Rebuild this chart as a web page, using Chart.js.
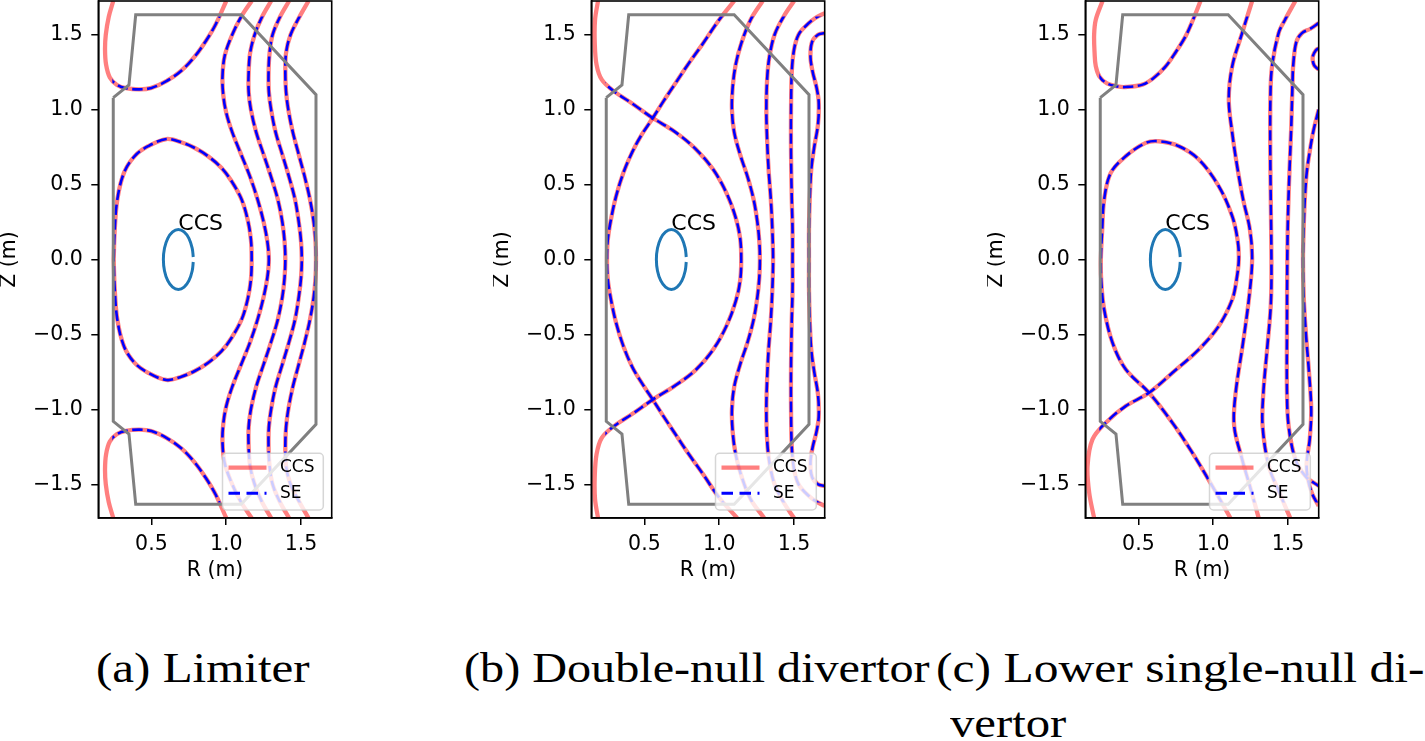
<!DOCTYPE html>
<html>
<head>
<meta charset="utf-8">
<script src="https://cdn.jsdelivr.net/npm/chart.js@4.4.0/dist/chart.umd.min.js"></script>
<style>
  body { margin: 0; background: #fff; width: 1425px; height: 741px; overflow: hidden; position: relative; }
  canvas { position: absolute; top: 0; }
  .cap { position: absolute; font-family: 'Liberation Serif', serif; font-size: 42px; line-height: 42px; white-space: nowrap; transform-origin: 0 0; color: #000; }
</style>
</head>
<body>
<canvas id="pa" width="340" height="600" style="left:0px"></canvas>
<canvas id="pb" width="340" height="600" style="left:493px"></canvas>
<canvas id="pc" width="340" height="600" style="left:987px"></canvas>
<div class="cap" style="left:95.5px;top:647px;transform:scaleX(1.167)">(a) Limiter</div>
<div class="cap" style="left:463.6px;top:647px;transform:scaleX(1.147)">(b) Double-null divertor</div>
<div class="cap" style="left:936px;top:647px;transform:scaleX(1.18)">(c) Lower single-null di-</div>
<div class="cap" style="left:950px;top:702px;transform:scaleX(1.16)">vertor</div>
<script>
// axis ranges and ticks
const xMin = 0.145, xMax = 1.705, yMin = -1.725, yMax = 1.725;
const xTicks = [0.5, 1.0, 1.5];
const yTicks = [-1.5, -1.0, -0.5, 0.0, 0.5, 1.0, 1.5];
const labelPos = [0.68, 0.2];

// vacuum vessel (gray)
const vessel = [[0.245,1.08],[0.35,1.165],[0.395,1.633],[1.1,1.633],[1.6,1.1],[1.6,-1.1],[1.1,-1.633],[0.395,-1.633],[0.35,-1.165],[0.245,-1.08],[0.245,1.08]];

// central coil outline
const coil = [[0.7796,0.017],[0.7724,0.0765],[0.7507,0.1414],[0.7183,0.1848],[0.68,0.2],[0.6417,0.1848],[0.6093,0.1414],[0.5876,0.0765],[0.58,0],[0.5876,-0.0765],[0.6093,-0.1414],[0.6417,-0.1848],[0.68,-0.2],[0.7183,-0.1848],[0.7507,-0.1414],[0.7724,-0.0765],[0.7796,-0.017]];

// (a) limiter
const aCore = [[0.248,0],[0.254,0.18],[0.272,0.40],[0.317,0.58],[0.388,0.69],[0.478,0.756],[0.60,0.804],[0.70,0.782],[0.79,0.744],[0.879,0.689],[0.969,0.611],[1.036,0.522],[1.103,0.40],[1.143,0.267],[1.165,0.133],[1.17,0],[1.165,-0.133],[1.143,-0.267],[1.103,-0.40],[1.036,-0.522],[0.969,-0.611],[0.879,-0.689],[0.79,-0.744],[0.70,-0.782],[0.60,-0.804],[0.478,-0.756],[0.388,-0.69],[0.317,-0.58],[0.272,-0.40],[0.254,-0.18],[0.248,0]];
const aUpper = [[0.245,1.725],[0.215,1.62],[0.195,1.50],[0.19,1.40],[0.197,1.30],[0.222,1.215],[0.27,1.165],[0.33,1.143],[0.42,1.135],[0.50,1.145],[0.60,1.19],[0.70,1.26],[0.79,1.355],[0.865,1.46],[0.93,1.57],[1.0,1.725]];
const aLower = [[0.245,-1.725],[0.215,-1.62],[0.195,-1.50],[0.19,-1.40],[0.197,-1.30],[0.222,-1.215],[0.27,-1.165],[0.33,-1.143],[0.42,-1.135],[0.50,-1.145],[0.60,-1.19],[0.70,-1.26],[0.79,-1.355],[0.865,-1.46],[0.93,-1.57],[1.0,-1.725]];
const aOpen1 = [[1.17,1.725],[1.10,1.62],[1.04,1.50],[0.99,1.36],[0.975,1.22],[0.98,1.10],[1.00,0.98],[1.04,0.85],[1.10,0.70],[1.16,0.55],[1.21,0.40],[1.25,0.25],[1.275,0.12],[1.285,0],[1.275,-0.12],[1.25,-0.25],[1.21,-0.40],[1.16,-0.55],[1.10,-0.70],[1.04,-0.85],[1.00,-0.98],[0.98,-1.10],[0.975,-1.22],[0.99,-1.36],[1.04,-1.50],[1.10,-1.62],[1.17,-1.725]];
const aOpen2 = [[1.30,1.725],[1.24,1.62],[1.19,1.50],[1.16,1.38],[1.15,1.25],[1.15,1.12],[1.165,1.0],[1.20,0.85],[1.25,0.70],[1.30,0.55],[1.345,0.40],[1.375,0.25],[1.39,0.12],[1.395,0],[1.39,-0.12],[1.375,-0.25],[1.345,-0.40],[1.30,-0.55],[1.25,-0.70],[1.20,-0.85],[1.165,-1.0],[1.15,-1.12],[1.15,-1.25],[1.16,-1.38],[1.19,-1.50],[1.24,-1.62],[1.30,-1.725]];
const aOpen3 = [[1.42,1.725],[1.36,1.62],[1.31,1.50],[1.29,1.38],[1.283,1.25],[1.285,1.12],[1.30,1.0],[1.33,0.85],[1.375,0.70],[1.42,0.55],[1.46,0.40],[1.485,0.25],[1.50,0.12],[1.505,0],[1.50,-0.12],[1.485,-0.25],[1.46,-0.40],[1.42,-0.55],[1.375,-0.70],[1.33,-0.85],[1.30,-1.0],[1.285,-1.12],[1.283,-1.25],[1.29,-1.38],[1.31,-1.50],[1.36,-1.62],[1.42,-1.725]];
const aOpen4 = [[1.55,1.725],[1.49,1.62],[1.43,1.50],[1.40,1.38],[1.395,1.25],[1.40,1.12],[1.415,1.0],[1.445,0.85],[1.485,0.70],[1.525,0.55],[1.56,0.40],[1.585,0.25],[1.597,0.12],[1.60,0],[1.597,-0.12],[1.585,-0.25],[1.56,-0.40],[1.525,-0.55],[1.485,-0.70],[1.445,-0.85],[1.415,-1.0],[1.40,-1.12],[1.395,-1.25],[1.40,-1.38],[1.43,-1.50],[1.49,-1.62],[1.55,-1.725]];

// (b) double-null divertor
const bSepOuter = [[0.19,1.725],[0.17,1.60],[0.168,1.45],[0.18,1.30],[0.215,1.20],[0.30,1.12],[0.42,1.04],[0.556,0.944],[0.70,0.855],[0.84,0.74],[0.96,0.60],[1.05,0.44],[1.11,0.28],[1.14,0.14],[1.147,0],[1.14,-0.14],[1.11,-0.28],[1.05,-0.44],[0.96,-0.60],[0.84,-0.74],[0.70,-0.845],[0.556,-0.935],[0.42,-1.03],[0.30,-1.11],[0.215,-1.19],[0.18,-1.30],[0.168,-1.45],[0.17,-1.60],[0.19,-1.725]];
const bSepInner = [[1.10,1.725],[1.00,1.60],[0.89,1.44],[0.79,1.30],[0.71,1.18],[0.63,1.06],[0.556,0.944],[0.48,0.83],[0.42,0.72],[0.36,0.58],[0.31,0.42],[0.275,0.26],[0.255,0.13],[0.25,0],[0.255,-0.13],[0.275,-0.26],[0.31,-0.42],[0.36,-0.58],[0.42,-0.72],[0.48,-0.82],[0.556,-0.935],[0.63,-1.05],[0.71,-1.17],[0.79,-1.29],[0.89,-1.43],[1.00,-1.59],[1.12,-1.725]];
const bOpen1 = [[1.29,1.725],[1.21,1.60],[1.15,1.45],[1.11,1.30],[1.09,1.15],[1.085,1.0],[1.10,0.85],[1.14,0.70],[1.19,0.55],[1.23,0.40],[1.255,0.25],[1.268,0.12],[1.272,0],[1.268,-0.12],[1.255,-0.25],[1.23,-0.40],[1.19,-0.55],[1.14,-0.70],[1.10,-0.85],[1.085,-1.0],[1.09,-1.15],[1.11,-1.30],[1.15,-1.45],[1.21,-1.60],[1.30,-1.725]];
const bOpen2 = [[1.50,1.725],[1.43,1.62],[1.37,1.50],[1.335,1.35],[1.32,1.20],[1.315,1.0],[1.32,0.80],[1.33,0.60],[1.345,0.40],[1.355,0.20],[1.36,0],[1.355,-0.20],[1.345,-0.40],[1.33,-0.60],[1.32,-0.80],[1.315,-1.0],[1.32,-1.20],[1.335,-1.35],[1.37,-1.50],[1.43,-1.62],[1.50,-1.725]];
const bOpen3 = [[1.705,1.644],[1.64,1.61],[1.58,1.56],[1.53,1.50],[1.50,1.40],[1.485,1.25],[1.48,1.0],[1.48,0.70],[1.485,0.40],[1.49,0.20],[1.49,0],[1.49,-0.20],[1.485,-0.40],[1.48,-0.70],[1.48,-1.0],[1.485,-1.25],[1.50,-1.40],[1.53,-1.50],[1.58,-1.56],[1.64,-1.61],[1.705,-1.644]];
const bOpen4 = [[1.705,1.511],[1.66,1.50],[1.62,1.45],[1.61,1.35],[1.625,1.25],[1.65,1.15],[1.665,1.05],[1.66,0.90],[1.635,0.75],[1.615,0.60],[1.605,0.40],[1.60,0.20],[1.60,0],[1.60,-0.20],[1.605,-0.40],[1.615,-0.60],[1.635,-0.75],[1.66,-0.90],[1.665,-1.05],[1.65,-1.15],[1.625,-1.25],[1.61,-1.35],[1.62,-1.45],[1.66,-1.50],[1.705,-1.511]];

// (c) lower single-null divertor
const cSep = [[1.115,-1.725],[0.993,-1.511],[0.86,-1.289],[0.727,-1.089],[0.571,-0.889],[0.415,-0.733],[0.327,-0.556],[0.271,-0.333],[0.252,-0.15],[0.249,0],[0.258,0.2],[0.271,0.40],[0.315,0.578],[0.415,0.689],[0.549,0.778],[0.637,0.789],[0.771,0.756],[0.904,0.667],[1.037,0.489],[1.127,0.289],[1.163,0.13],[1.171,0],[1.155,-0.14],[1.127,-0.267],[1.037,-0.444],[0.904,-0.60],[0.727,-0.756],[0.571,-0.889],[0.415,-0.978],[0.282,-1.089],[0.193,-1.20],[0.16,-1.378],[0.171,-1.556],[0.204,-1.725]];
const cUpper = [[0.26,1.725],[0.215,1.60],[0.204,1.50],[0.207,1.38],[0.215,1.29],[0.24,1.22],[0.29,1.175],[0.36,1.155],[0.415,1.151],[0.527,1.167],[0.60,1.21],[0.682,1.289],[0.75,1.385],[0.815,1.489],[0.865,1.60],[0.915,1.725]];
const cOpen1 = [[1.26,1.725],[1.193,1.511],[1.127,1.289],[1.104,1.067],[1.127,0.844],[1.16,0.622],[1.20,0.40],[1.245,0.20],[1.26,0],[1.24,-0.25],[1.20,-0.55],[1.15,-0.889],[1.14,-1.111],[1.193,-1.333],[1.25,-1.53],[1.304,-1.725]];
const cOpen2 = [[1.549,1.725],[1.48,1.60],[1.437,1.511],[1.393,1.289],[1.382,1.067],[1.382,0.622],[1.389,0],[1.385,-0.30],[1.36,-0.60],[1.335,-0.889],[1.33,-1.111],[1.371,-1.378],[1.44,-1.55],[1.515,-1.725]];
const cOpen3 = [[1.705,1.578],[1.65,1.54],[1.593,1.511],[1.555,1.45],[1.535,1.30],[1.53,1.178],[1.522,0.90],[1.51,0.60],[1.50,0.30],[1.495,0],[1.493,-0.444],[1.493,-0.889],[1.504,-1.111],[1.549,-1.333],[1.62,-1.45],[1.705,-1.511]];
const cOpen4 = [[1.705,1.0],[1.67,0.86],[1.645,0.72],[1.625,0.58],[1.613,0.42],[1.605,0.22],[1.60,0],[1.605,-0.25],[1.62,-0.50],[1.64,-0.75],[1.655,-1.0],[1.645,-1.20],[1.625,-1.35],[1.63,-1.45],[1.66,-1.56],[1.705,-1.644]];
const cLoop = [[1.705,1.41],[1.685,1.395],[1.667,1.36],[1.665,1.33],[1.675,1.295],[1.695,1.275],[1.705,1.27]];

const panels = [
  ['pa', [aCore, aUpper, aLower, aOpen1, aOpen2, aOpen3, aOpen4]],
  ['pb', [bSepOuter, bSepInner, bOpen1, bOpen2, bOpen3, bOpen4]],
  ['pc', [cSep, cUpper, cOpen1, cOpen2, cOpen3, cOpen4, cLoop]]
];

const CCS_COLOR = 'rgba(255,0,0,0.5)';
const SE_COLOR = '#0000ff';
const SE_DASH = [10.4, 4.5];

const extras = {
  id: 'extras',
  afterDatasetsDraw(chart) {
    const { ctx, chartArea: a, scales: { x, y } } = chart;
    ctx.save();
    // coil label
    ctx.font = '22px "DejaVu Sans"';
    ctx.fillStyle = '#000';
    ctx.textAlign = 'left';
    ctx.textBaseline = 'alphabetic';
    ctx.fillText('CCS', x.getPixelForValue(labelPos[0]), y.getPixelForValue(labelPos[1]));
    // box around axes
    ctx.strokeStyle = '#000';
    ctx.lineWidth = 1.6;
    ctx.strokeRect(a.left, a.top, a.right - a.left, a.bottom - a.top);
    // legend
    const L = a.right - 109.2, R = a.right - 8.4, T = a.bottom - 64.7, B = a.bottom - 8;
    ctx.beginPath();
    ctx.roundRect(L, T, R - L, B - T, 4);
    ctx.fillStyle = 'rgba(255,255,255,0.8)';
    ctx.fill();
    ctx.strokeStyle = 'rgba(204,204,204,0.8)';
    ctx.lineWidth = 1.5;
    ctx.stroke();
    ctx.lineWidth = 4.3;
    ctx.strokeStyle = CCS_COLOR;
    ctx.beginPath(); ctx.moveTo(L + 6, T + 14.4); ctx.lineTo(L + 44, T + 14.4); ctx.stroke();
    ctx.lineWidth = 3;
    ctx.strokeStyle = SE_COLOR;
    ctx.setLineDash([11.5, 6.5]);
    ctx.beginPath(); ctx.moveTo(L + 6, T + 40); ctx.lineTo(L + 44, T + 40); ctx.stroke();
    ctx.setLineDash([]);
    ctx.font = '17px "DejaVu Sans"';
    ctx.fillStyle = '#000';
    ctx.textBaseline = 'middle';
    ctx.fillText('CCS', L + 57.5, T + 14.4);
    ctx.fillText('SE', L + 57.5, T + 40);
    ctx.restore();
  }
};

const tickFont = { family: 'DejaVu Sans', size: 20.5 };
const fmt = v => (v < 0 ? '\u2212' : '') + Math.abs(v).toFixed(1);

function makeChart(id, curves) {
  const se = curves.map(c => ({
    data: c, showLine: true, borderColor: SE_COLOR, borderWidth: 2.6, borderDash: SE_DASH,
    pointRadius: 0, tension: 0.35, fill: false, clip: { left: -14, top: -15.5, right: 0, bottom: -15.5 }
  }));
  const ccs = curves.map(c => ({
    data: c, showLine: true, borderColor: CCS_COLOR, borderWidth: 4.3,
    pointRadius: 0, tension: 0.35, fill: false, clip: 0
  }));
  const datasets = [
    { data: vessel, showLine: true, borderColor: '#808080', borderWidth: 3, pointRadius: 0, tension: 0, clip: 0 },
    { data: coil, showLine: true, borderColor: '#1f77b4', borderWidth: 3, pointRadius: 0, tension: 0.4, clip: 0 },
    ...se, ...ccs
  ];
  return new Chart(document.getElementById(id), {
    type: 'scatter',
    data: { datasets },
    options: {
      responsive: false, animation: false, devicePixelRatio: 1,
      layout: { padding: { left: 0, right: 8.3, top: 1, bottom: 0 } },
      plugins: { legend: { display: false }, tooltip: { enabled: false } },
      scales: {
        x: {
          type: 'linear', min: xMin, max: xMax,
          afterBuildTicks: s => { s.ticks = xTicks.map(v => ({ value: v })); },
          afterFit: s => { s.height = 82; s.paddingLeft = 0; s.paddingRight = 0; },
          ticks: { font: tickFont, color: '#000', padding: 7, autoSkip: false, maxRotation: 0, callback: fmt },
          grid: { display: true, drawOnChartArea: false, drawTicks: true, tickLength: 7, color: '#000', lineWidth: 1.5 },
          border: { display: true, color: '#000', width: 1.6 },
          title: { display: true, text: 'R (m)', color: '#000', font: tickFont, padding: { top: 0, bottom: 16.7 } }
        },
        y: {
          type: 'linear', min: yMin, max: yMax,
          afterBuildTicks: s => { s.ticks = yTicks.map(v => ({ value: v })); },
          afterFit: s => { s.width = 98.3; s.paddingTop = 0; s.paddingBottom = 0; },
          ticks: { font: tickFont, color: '#000', padding: 8.5, autoSkip: false, callback: fmt },
          grid: { display: true, drawOnChartArea: false, drawTicks: true, tickLength: 7, color: '#000', lineWidth: 1.5 },
          border: { display: true, color: '#000', width: 1.6 },
          title: { display: true, text: 'Z (m)', color: '#000', font: { family: 'DejaVu Sans', size: 20.5, lineHeight: 0.95 }, padding: { top: 0, bottom: 0 } }
        }
      }
    },
    plugins: [extras]
  });
}

panels.forEach(([id, curves]) => makeChart(id, curves));
</script>
</body>
</html>
